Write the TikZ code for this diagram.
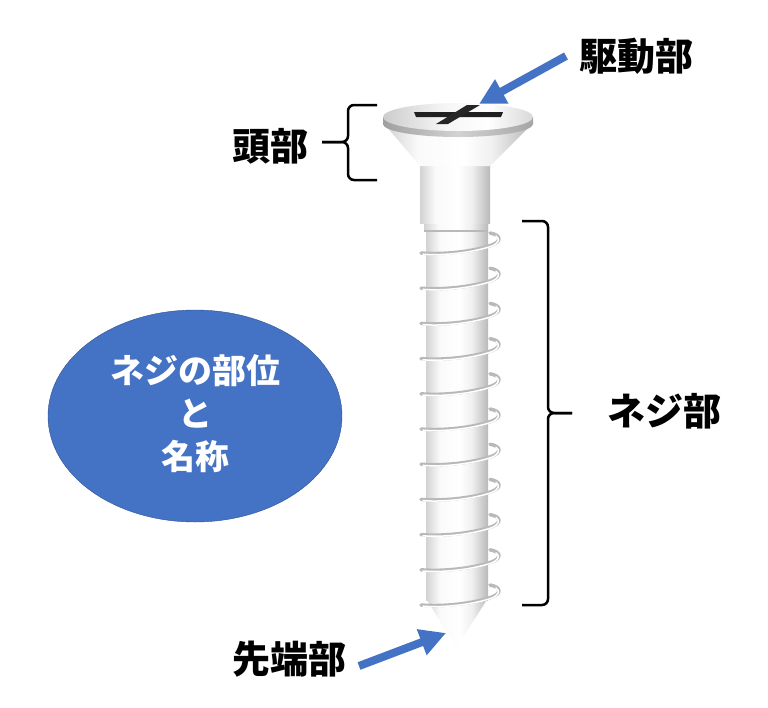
\documentclass[tikz,border=0pt]{standalone}
\usepackage{fontspec}
\newfontfamily\jpfont{Noto Sans CJK JP}
\usetikzlibrary{arrows.meta,shapes.geometric}
\definecolor{screwblue}{HTML}{4472C4}
\definecolor{ovalline}{HTML}{2F528F}
\pgfdeclarehorizontalshading{screwmetal}{100bp}{color(0bp)=(gray!35); color(25bp)=(gray!35); color(36bp)=(gray!4); color(52bp)=(white); color(62bp)=(gray!12); color(75bp)=(gray!55); color(100bp)=(gray!55)}
\pgfdeclarehorizontalshading{headtop}{100bp}{color(0bp)=(gray!40); color(25bp)=(gray!40); color(45bp)=(gray!8); color(60bp)=(white); color(75bp)=(gray!30); color(100bp)=(gray!30)}
\pgfdeclarehorizontalshading{headrim}{100bp}{color(0bp)=(gray!75); color(25bp)=(gray!75); color(50bp)=(gray!35); color(75bp)=(gray!70); color(100bp)=(gray!70)}
\tikzset{
  partlabel/.style={font=\jpfont\bfseries\fontsize{38}{40}\selectfont, text=black, inner sep=0pt},
  pointer/.style={screwblue, line width=8pt, -{Triangle[length=26pt,width=26pt]}},
  bracket/.style={line width=2.5pt, rounded corners=6pt},
  metal/.style={shading=screwmetal},
  thread/.style={line width=3.5pt, gray!55, line cap=round},
  threadlight/.style={line width=1.5pt, white, line cap=round},
}
\begin{document}
\begin{tikzpicture}[x=1pt, y=-1pt]
    \useasboundingbox (0,0) rectangle (768,707);
        % threaded body and tip
        \shade[metal] (426,222) rectangle (488,600);
        \shade[metal] (426,598) -- (488,598) -- (456,648) -- cycle;
        \foreach \i in {0,...,10}{
            \pgfmathsetmacro\y{253+35.2*\i}
            \draw[thread] (421,\y) .. controls (445,\y+2) and (475,\y-2) .. (492,\y-8) .. controls (502,\y-12) and (501,\y-18) .. (490,\y-20);
            \draw[threadlight] (423,\y+1.2) .. controls (445,\y+3) and (475,\y-1) .. (492,\y-7) .. controls (499,\y-10) and (500,\y-14) .. (496,\y-17);
        }
        % shank
        \shade[metal] (424,222) rectangle (488,231);
        \draw[gray!55, line width=1.5pt] (424,231) -- (488,231);
        \shade[metal] (420,160) rectangle (490,223);
        % head
        \shade[metal] (386,126) -- (530,126) -- (490,166) -- (420,166) -- cycle;
        \shade[shading=headrim] (458,124) ellipse (75 and 13);
        \shade[shading=headrim] (383,117) rectangle (533,124);
        \shade[shading=headtop] (458,117) ellipse (75 and 14);
        % drive recess
        \fill[gray!25!black] (414,112) -- (503,112) -- (501,117) -- (416,117) -- cycle;
        \fill[gray!30!black] (467,105) -- (480,105) -- (448,124) -- (436,124) -- cycle;
        \coordinate (drive) at (479,104);
        \coordinate (drivetail) at (566,56);
        \coordinate (tip) at (446,633);
        \coordinate (tiptail) at (359,666);
        % braces
        \draw[bracket] (377,105) -- (348,105) -- (348,142) -- (322,142);
        \draw[bracket] (322,142) -- (348,142) -- (348,180) -- (377,180);
        \draw[bracket] (522,221) -- (548,221) -- (548,413) -- (572,413);
        \draw[bracket] (572,413) -- (548,413) -- (548,605) -- (522,605);
        % labels
        \node[partlabel] (drivelabel) at (636,56) {駆動部};
        \node[partlabel] (headlabel) at (270,146) {頭部};
        \node[partlabel] (threadlabel) at (664,411) {ネジ部};
        \node[partlabel] (tiplabel) at (289,659) {先端部};
        \draw[pointer] (drivetail) -- (drive);
        \draw[pointer] (tiptail) -- (tip);
        % title oval
        \node[ellipse, fill=screwblue, draw=ovalline, minimum width=294pt, minimum height=212pt, inner sep=0pt] (oval) at (195,416) {};
        \node[align=center, text=white, font=\jpfont\bfseries\fontsize{34}{43}\selectfont] (title) at (195,414) {ネジの部位\\と\\名称};
\end{tikzpicture}
\end{document}
